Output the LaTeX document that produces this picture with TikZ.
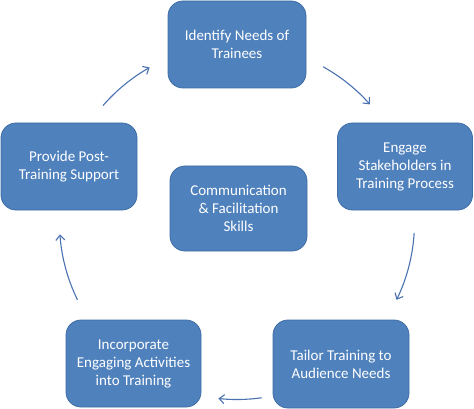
\documentclass[tikz,border=0pt]{standalone}
\usepackage{fontspec}
\setmainfont{Carlito}
\usetikzlibrary{arrows.meta}
\definecolor{boxfill}{HTML}{4F81BD}
\definecolor{boxline}{HTML}{3F6DA5}
\definecolor{arrowcol}{HTML}{4A72B0}
\begin{document}
\begin{tikzpicture}[x=1pt,y=-1pt,
  stagebox/.style={draw=boxline, line width=0.8pt, fill=boxfill, rounded corners=15pt,
    text=white, align=center, inner sep=0pt,
    font=\fontsize{15}{18}\selectfont},
  cyclearrow/.style={draw=arrowcol, line width=1.1pt,
    -{Straight Barb[length=5pt,width=9pt,line width=1.1pt]}}]
\useasboundingbox (0,0) rectangle (474,409);
\node[stagebox, minimum width=138pt, minimum height=87pt] (identify) at (237,44.5) {Identify Needs of\\Trainees};
\node[stagebox, minimum width=135pt, minimum height=87pt] (engage) at (405,166.5) {Engage\\Stakeholders in\\Training Process};
\node[stagebox, minimum width=136pt, minimum height=87pt] (support) at (69,166.5) {Provide Post-\\Training Support};
\node[stagebox, minimum width=137pt, minimum height=85pt] (comm) at (238.5,208.5) {Communication\\\& Facilitation\\Skills};
\node[stagebox, minimum width=136pt, minimum height=88pt] (tailor) at (341,364) {Tailor Training to\\Audience Needs};
\node[stagebox, minimum width=135pt, minimum height=87pt] (incorp) at (133.5,363.5) {Incorporate\\Engaging Activities\\into Training};
\coordinate (ctr) at (237,222);
\def\R{177.5}
\coordinate (a1s) at ([shift={(-139:\R)}]ctr);
\coordinate (a2s) at ([shift={(-61:\R)}]ctr);
\coordinate (a3s) at ([shift={(3.5:\R)}]ctr);
\coordinate (a4s) at ([shift={(82:\R)}]ctr);
\coordinate (a5s) at ([shift={(154:\R)}]ctr);
\draw[cyclearrow] (a1s) arc[start angle=-139, end angle=-119.5, radius=\R];
\draw[cyclearrow] (a2s) arc[start angle=-61, end angle=-41.5, radius=\R];
\draw[cyclearrow] (a3s) arc[start angle=3.5, end angle=26, radius=\R];
\draw[cyclearrow] (a4s) arc[start angle=82, end angle=96, radius=\R];
\draw[cyclearrow] (a5s) arc[start angle=154, end angle=176, radius=\R];
\end{tikzpicture}
\end{document}
